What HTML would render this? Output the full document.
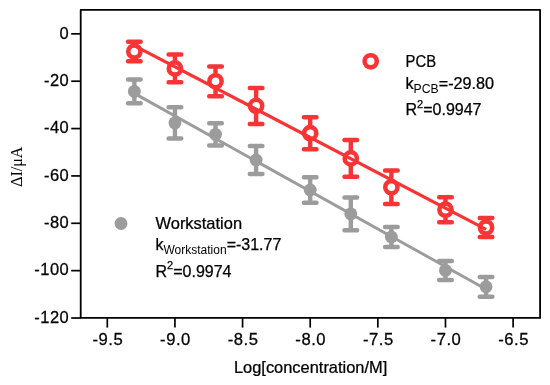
<!DOCTYPE html><html><head><meta charset="utf-8"><style>html,body{margin:0;padding:0;background:#fff;}svg{display:block;}text{font-family:"Liberation Sans",Arial,sans-serif;fill:#000;stroke:#000;stroke-width:0.25px;}</style></head><body>
<svg width="550" height="385" viewBox="0 0 550 385">
<rect width="550" height="385" fill="#fff"/>
<path d="M80.7 9.9H540.1V317.9H80.7Z" fill="none" stroke="#000" stroke-width="1.8" stroke-linejoin="round"/>
<path d="M71.2 33.85H80.7" stroke="#000" stroke-width="1.7"/>
<text transform="translate(69.20 38.55) scale(1.03 1)" font-size="16" text-anchor="end" letter-spacing="0.45">0</text>
<path d="M71.2 81.21H80.7" stroke="#000" stroke-width="1.7"/>
<text transform="translate(69.20 85.91) scale(1.03 1)" font-size="16" text-anchor="end" letter-spacing="0.45">-20</text>
<path d="M71.2 128.57H80.7" stroke="#000" stroke-width="1.7"/>
<text transform="translate(69.20 133.27) scale(1.03 1)" font-size="16" text-anchor="end" letter-spacing="0.45">-40</text>
<path d="M71.2 175.93H80.7" stroke="#000" stroke-width="1.7"/>
<text transform="translate(69.20 180.63) scale(1.03 1)" font-size="16" text-anchor="end" letter-spacing="0.45">-60</text>
<path d="M71.2 223.29H80.7" stroke="#000" stroke-width="1.7"/>
<text transform="translate(69.20 227.99) scale(1.03 1)" font-size="16" text-anchor="end" letter-spacing="0.45">-80</text>
<path d="M71.2 270.65H80.7" stroke="#000" stroke-width="1.7"/>
<text transform="translate(69.20 275.35) scale(1.03 1)" font-size="16" text-anchor="end" letter-spacing="0.45">-100</text>
<path d="M71.2 318.01H80.7" stroke="#000" stroke-width="1.7"/>
<text transform="translate(69.20 322.71) scale(1.03 1)" font-size="16" text-anchor="end" letter-spacing="0.45">-120</text>
<path d="M107.30 317.9V327.6" stroke="#000" stroke-width="1.7"/>
<text transform="translate(107.80 345.30) scale(1.04 1)" font-size="16" text-anchor="middle" letter-spacing="0.5">-9.5</text>
<path d="M174.94 317.9V327.6" stroke="#000" stroke-width="1.7"/>
<text transform="translate(175.44 345.30) scale(1.04 1)" font-size="16" text-anchor="middle" letter-spacing="0.5">-9.0</text>
<path d="M242.57 317.9V327.6" stroke="#000" stroke-width="1.7"/>
<text transform="translate(243.07 345.30) scale(1.04 1)" font-size="16" text-anchor="middle" letter-spacing="0.5">-8.5</text>
<path d="M310.21 317.9V327.6" stroke="#000" stroke-width="1.7"/>
<text transform="translate(310.71 345.30) scale(1.04 1)" font-size="16" text-anchor="middle" letter-spacing="0.5">-8.0</text>
<path d="M377.84 317.9V327.6" stroke="#000" stroke-width="1.7"/>
<text transform="translate(378.34 345.30) scale(1.04 1)" font-size="16" text-anchor="middle" letter-spacing="0.5">-7.5</text>
<path d="M445.48 317.9V327.6" stroke="#000" stroke-width="1.7"/>
<text transform="translate(445.98 345.30) scale(1.04 1)" font-size="16" text-anchor="middle" letter-spacing="0.5">-7.0</text>
<path d="M513.11 317.9V327.6" stroke="#000" stroke-width="1.7"/>
<text transform="translate(513.61 345.30) scale(1.04 1)" font-size="16" text-anchor="middle" letter-spacing="0.5">-6.5</text>
<text transform="translate(310.60 372.60) scale(1.027 1)" font-size="16" text-anchor="middle">Log[concentration/M]</text>
<text transform="translate(22,166.7) rotate(-90)" font-size="16" text-anchor="middle" style="font-family:&quot;Liberation Serif&quot;,serif;stroke-width:0.05px">ΔI/μA</text>
<path d="M134.35 93.37L486.06 289.23" stroke="#9c9c9c" stroke-width="2.9"/>
<path d="M134.35 79.60V91.40M134.35 91.40V103.20" stroke="#9c9c9c" stroke-width="4.4" fill="none"/>
<path d="M128.05 79.60H140.65M128.05 103.20H140.65" stroke="#9c9c9c" stroke-width="4.5" stroke-linecap="round" fill="none"/>
<path d="M174.94 107.20V122.85M174.94 122.85V138.50" stroke="#9c9c9c" stroke-width="4.4" fill="none"/>
<path d="M168.63 107.20H181.24M168.63 138.50H181.24" stroke="#9c9c9c" stroke-width="4.5" stroke-linecap="round" fill="none"/>
<path d="M215.52 123.20V134.35M215.52 134.35V145.50" stroke="#9c9c9c" stroke-width="4.4" fill="none"/>
<path d="M209.22 123.20H221.82M209.22 145.50H221.82" stroke="#9c9c9c" stroke-width="4.5" stroke-linecap="round" fill="none"/>
<path d="M256.10 145.90V160.00M256.10 160.00V174.10" stroke="#9c9c9c" stroke-width="4.4" fill="none"/>
<path d="M249.80 145.90H262.40M249.80 174.10H262.40" stroke="#9c9c9c" stroke-width="4.5" stroke-linecap="round" fill="none"/>
<path d="M310.21 177.20V190.00M310.21 190.00V202.80" stroke="#9c9c9c" stroke-width="4.4" fill="none"/>
<path d="M303.91 177.20H316.51M303.91 202.80H316.51" stroke="#9c9c9c" stroke-width="4.5" stroke-linecap="round" fill="none"/>
<path d="M350.79 197.45V213.85M350.79 213.85V230.25" stroke="#9c9c9c" stroke-width="4.4" fill="none"/>
<path d="M344.49 197.45H357.09M344.49 230.25H357.09" stroke="#9c9c9c" stroke-width="4.5" stroke-linecap="round" fill="none"/>
<path d="M391.37 227.00V237.00M391.37 237.00V247.00" stroke="#9c9c9c" stroke-width="4.4" fill="none"/>
<path d="M385.07 227.00H397.67M385.07 247.00H397.67" stroke="#9c9c9c" stroke-width="4.5" stroke-linecap="round" fill="none"/>
<path d="M445.48 260.90V270.40M445.48 270.40V279.90" stroke="#9c9c9c" stroke-width="4.4" fill="none"/>
<path d="M439.18 260.90H451.78M439.18 279.90H451.78" stroke="#9c9c9c" stroke-width="4.5" stroke-linecap="round" fill="none"/>
<path d="M486.06 276.90V286.80M486.06 286.80V296.70" stroke="#9c9c9c" stroke-width="4.4" fill="none"/>
<path d="M479.76 276.90H492.36M479.76 296.70H492.36" stroke="#9c9c9c" stroke-width="4.5" stroke-linecap="round" fill="none"/>
<circle cx="134.35" cy="91.40" r="6.45" fill="#9c9c9c"/>
<circle cx="174.94" cy="122.85" r="6.45" fill="#9c9c9c"/>
<circle cx="215.52" cy="134.35" r="6.45" fill="#9c9c9c"/>
<circle cx="256.10" cy="160.00" r="6.45" fill="#9c9c9c"/>
<circle cx="310.21" cy="190.00" r="6.45" fill="#9c9c9c"/>
<circle cx="350.79" cy="213.85" r="6.45" fill="#9c9c9c"/>
<circle cx="391.37" cy="237.00" r="6.45" fill="#9c9c9c"/>
<circle cx="445.48" cy="270.40" r="6.45" fill="#9c9c9c"/>
<circle cx="486.06" cy="286.80" r="6.45" fill="#9c9c9c"/>
<path d="M134.35 45.59L486.06 229.37" stroke="#f93436" stroke-width="3.3"/>
<path d="M134.35 41.80V43.95M134.35 59.15V61.30" stroke="#f93436" stroke-width="4.4" fill="none"/>
<path d="M128.05 41.80H140.65M128.05 61.30H140.65" stroke="#f93436" stroke-width="4.5" stroke-linecap="round" fill="none"/>
<path d="M174.94 54.60V60.85M174.94 76.05V82.30" stroke="#f93436" stroke-width="4.4" fill="none"/>
<path d="M168.63 54.60H181.24M168.63 82.30H181.24" stroke="#f93436" stroke-width="4.5" stroke-linecap="round" fill="none"/>
<path d="M215.52 66.40V73.70M215.52 88.90V96.20" stroke="#f93436" stroke-width="4.4" fill="none"/>
<path d="M209.22 66.40H221.82M209.22 96.20H221.82" stroke="#f93436" stroke-width="4.5" stroke-linecap="round" fill="none"/>
<path d="M256.10 87.90V98.30M256.10 113.50V123.90" stroke="#f93436" stroke-width="4.4" fill="none"/>
<path d="M249.80 87.90H262.40M249.80 123.90H262.40" stroke="#f93436" stroke-width="4.5" stroke-linecap="round" fill="none"/>
<path d="M310.21 117.20V125.60M310.21 140.80V149.20" stroke="#f93436" stroke-width="4.4" fill="none"/>
<path d="M303.91 117.20H316.51M303.91 149.20H316.51" stroke="#f93436" stroke-width="4.5" stroke-linecap="round" fill="none"/>
<path d="M350.79 140.00V150.80M350.79 166.00V176.80" stroke="#f93436" stroke-width="4.4" fill="none"/>
<path d="M344.49 140.00H357.09M344.49 176.80H357.09" stroke="#f93436" stroke-width="4.5" stroke-linecap="round" fill="none"/>
<path d="M391.37 170.45V179.60M391.37 194.80V203.95" stroke="#f93436" stroke-width="4.4" fill="none"/>
<path d="M385.07 170.45H397.67M385.07 203.95H397.67" stroke="#f93436" stroke-width="4.5" stroke-linecap="round" fill="none"/>
<path d="M445.48 197.20V202.10M445.48 217.30V222.20" stroke="#f93436" stroke-width="4.4" fill="none"/>
<path d="M439.18 197.20H451.78M439.18 222.20H451.78" stroke="#f93436" stroke-width="4.5" stroke-linecap="round" fill="none"/>
<path d="M486.06 218.10V219.90M486.06 235.10V236.90" stroke="#f93436" stroke-width="4.4" fill="none"/>
<path d="M479.76 218.10H492.36M479.76 236.90H492.36" stroke="#f93436" stroke-width="4.5" stroke-linecap="round" fill="none"/>
<circle cx="134.35" cy="51.55" r="6.1" fill="none" stroke="#f93436" stroke-width="4.6"/>
<circle cx="174.94" cy="68.45" r="6.1" fill="none" stroke="#f93436" stroke-width="4.6"/>
<circle cx="215.52" cy="81.30" r="6.1" fill="none" stroke="#f93436" stroke-width="4.6"/>
<circle cx="256.10" cy="105.90" r="6.1" fill="none" stroke="#f93436" stroke-width="4.6"/>
<circle cx="310.21" cy="133.20" r="6.1" fill="none" stroke="#f93436" stroke-width="4.6"/>
<circle cx="350.79" cy="158.40" r="6.1" fill="none" stroke="#f93436" stroke-width="4.6"/>
<circle cx="391.37" cy="187.20" r="6.1" fill="none" stroke="#f93436" stroke-width="4.6"/>
<circle cx="445.48" cy="209.70" r="6.1" fill="none" stroke="#f93436" stroke-width="4.6"/>
<circle cx="486.06" cy="227.50" r="6.1" fill="none" stroke="#f93436" stroke-width="4.6"/>
<circle cx="370.7" cy="61.3" r="6.1" fill="none" stroke="#f93436" stroke-width="4.6"/>
<text transform="translate(405.50 66.60) scale(0.93 1)" font-size="16">PCB</text>
<text transform="translate(405.50 88.80) scale(1.015 1)" font-size="16">k<tspan font-size="12" stroke-width="0" dy="3.7">PCB</tspan><tspan dy="-3.7">=-29.80</tspan></text>
<text transform="translate(405.50 115.20)" font-size="16">R<tspan font-size="11" dy="-7.6">2</tspan><tspan dy="7.6">=0.9947</tspan></text>
<circle cx="121.0" cy="223.5" r="6.45" fill="#9c9c9c"/>
<text transform="translate(155.50 229.20) scale(1.029 1)" font-size="16">Workstation</text>
<text transform="translate(155.50 250.00)" font-size="16">k<tspan font-size="12" stroke-width="0" dy="3.7">Workstation</tspan><tspan dy="-3.7">=-31.77</tspan></text>
<text transform="translate(155.50 276.80)" font-size="16">R<tspan font-size="11" dy="-7.6">2</tspan><tspan dy="7.6">=0.9974</tspan></text>
</svg></body></html>
